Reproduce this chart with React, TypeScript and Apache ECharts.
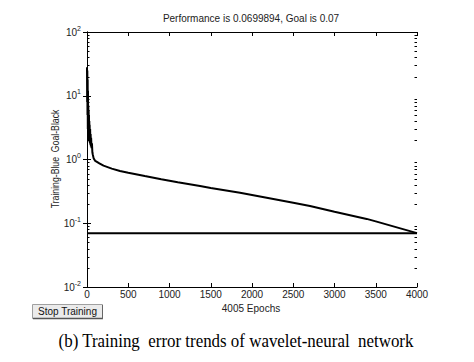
import React, { useEffect, useRef } from "react";
import * as echarts from "echarts";

const epochs = [0, 2, 4, 6, 8, 10, 12, 14, 16, 18, 20, 22, 24, 26, 28, 30, 32, 35, 38, 41, 44, 47, 50, 55, 60, 65, 70, 80, 100, 150, 200, 300, 400, 500, 700, 900, 1100, 1370, 1500, 1855, 2178, 2500, 2703, 3000, 3390, 3500, 4000];
const performance = [28, 8, 25, 5, 18, 3, 12, 2.5, 7, 2.2, 6, 2, 5, 2, 4, 1.9, 3.5, 1.8, 3, 1.7, 2.5, 1.6, 2.2, 1.5, 1.8, 1.3, 1.2, 1.05, 0.95, 0.87, 0.8, 0.72, 0.66, 0.62, 0.55, 0.49, 0.44, 0.383, 0.357, 0.3, 0.251, 0.209, 0.186, 0.151, 0.117, 0.107, 0.0699894];
const goal = 0.07;
const goalEpochs = [0, 4000];
const yDecades = [0.01, 0.1, 1, 10, 100];
const xTicks = [0, 500, 1000, 1500, 2000, 2500, 3000, 3500, 4000];
const titleText = "Performance is 0.0699894, Goal is 0.07";
const xName = "4005 Epochs";
const yName = "Training-Blue  Goal-Black";
const buttonText = "Stop Training";
const caption = "(b) Training  error trends of wavelet-neural  network";

const FONT = "Liberation Sans, Arial, sans-serif";

export default function App() {
  const ref = useRef<HTMLDivElement>(null);
  useEffect(() => {
    if (!ref.current) return;
    const chart = echarts.init(ref.current, null, { renderer: "svg" });
    const minorVals: number[] = [];
    for (let d = 0; d < yDecades.length - 1; d++) {
      for (let k = 2; k <= 9; k++) minorVals.push(yDecades[d] * k);
    }
    const grid = { left: 87, top: 32, width: 330, height: 255 };
    const tickStyle = { show: true, inside: true, length: 4, lineStyle: { color: "#000", width: 1 } };
    const lineStyle = { show: true, lineStyle: { color: "#000", width: 1 } };
    const yLabelFmt = (v: number) => {
      const e = Math.round(Math.log10(v));
      return "{b|10}{s|" + e + "}";
    };
    chart.setOption({
      animation: false,
      backgroundColor: "#fff",
      grid,
      xAxis: [
        {
          type: "value",
          min: 0,
          max: 4000,
          interval: 500,
          axisLine: lineStyle,
          axisTick: tickStyle,
          splitLine: { show: false },
          axisLabel: {
            margin: 2,
            fontFamily: FONT,
            fontSize: 10,
            color: "#222",
            formatter: (v: number) => (xTicks.includes(v) ? String(v) : ""),
          },
        },
        {
          type: "value",
          position: "top",
          min: 0,
          max: 4000,
          interval: 500,
          axisLine: lineStyle,
          axisTick: tickStyle,
          splitLine: { show: false },
          axisLabel: { show: false },
        },
      ],
      yAxis: [
        {
          type: "log",
          logBase: 10,
          min: yDecades[0],
          max: yDecades[yDecades.length - 1],
          axisLine: lineStyle,
          axisTick: tickStyle,
          splitLine: { show: false },
          axisLabel: {
            margin: 6,
            formatter: yLabelFmt,
            rich: {
              b: { fontFamily: FONT, fontSize: 10, color: "#222" },
              s: { fontFamily: FONT, fontSize: 7, color: "#222", padding: [0, 0, 8, 0] },
            },
          },
        },
        {
          type: "log",
          logBase: 10,
          position: "right",
          min: yDecades[0],
          max: yDecades[yDecades.length - 1],
          axisLine: lineStyle,
          axisTick: tickStyle,
          splitLine: { show: false },
          axisLabel: { show: false },
        },
      ],
      series: [
        {
          type: "line",
          data: epochs.map((e, i) => [e, performance[i]]),
          showSymbol: false,
          lineStyle: { color: "#000", width: 2 },
          z: 3,
        },
        {
          type: "line",
          data: goalEpochs.map((e) => [e, goal]),
          showSymbol: false,
          lineStyle: { color: "#000", width: 2 },
          z: 2,
        },
        {
          type: "custom",
          data: minorVals.map((v) => [0, v]),
          silent: true,
          clip: false,
          renderItem: (params: any, api: any) => {
            const cs = params.coordSys;
            const p = api.coord([0, api.value(1)]);
            const y = Math.round(p[1]) + 0.5;
            return {
              type: "group",
              children: [
                { type: "line", shape: { x1: cs.x, y1: y, x2: cs.x + 2.5, y2: y }, style: { stroke: "#000", lineWidth: 1 } },
                { type: "line", shape: { x1: cs.x + cs.width - 2.5, y1: y, x2: cs.x + cs.width, y2: y }, style: { stroke: "#000", lineWidth: 1 } },
              ],
            };
          },
        },
      ],
      graphic: [
        {
          type: "text",
          x: 251,
          y: 18,
          style: { text: titleText, fontFamily: FONT, fontSize: 10, fill: "#222", align: "center", verticalAlign: "middle" },
        },
        {
          type: "text",
          x: 251,
          y: 308,
          style: { text: xName, fontFamily: FONT, fontSize: 10, fill: "#222", align: "center", verticalAlign: "middle" },
        },
        {
          type: "text",
          x: 56,
          y: 159,
          rotation: Math.PI / 2,
          scaleX: 0.87,
          style: { text: yName, fontFamily: FONT, fontSize: 10, fill: "#222", align: "center", verticalAlign: "middle" },
        },
        {
          type: "group",
          children: [
            {
              type: "rect",
              shape: { x: 32.5, y: 304.5, width: 70, height: 14 },
              style: { fill: "#ebebeb", stroke: "#a0a0a0", lineWidth: 1 },
            },
            {
              type: "line",
              shape: { x1: 33, y1: 318.5, x2: 103, y2: 318.5 },
              style: { stroke: "#555", lineWidth: 1.5 },
            },
            {
              type: "line",
              shape: { x1: 102.5, y1: 305, x2: 102.5, y2: 319 },
              style: { stroke: "#666", lineWidth: 1 },
            },
            {
              type: "text",
              x: 67.5,
              y: 311.5,
              style: { text: buttonText, fontFamily: FONT, fontSize: 10, fill: "#111", align: "center", verticalAlign: "middle" },
            },
          ],
        },
        {
          type: "text",
          x: 236,
          y: 341,
          scaleX: 0.94,
          style: { text: caption, fontFamily: "Liberation Serif, Times New Roman, serif", fontSize: 18, fill: "#000", align: "center", verticalAlign: "middle" },
        },
      ],
    });
    return () => chart.dispose();
  }, []);
  return <div ref={ref} style={{ position: "fixed", left: 0, top: 0, width: 474, height: 362 }} />;
}
